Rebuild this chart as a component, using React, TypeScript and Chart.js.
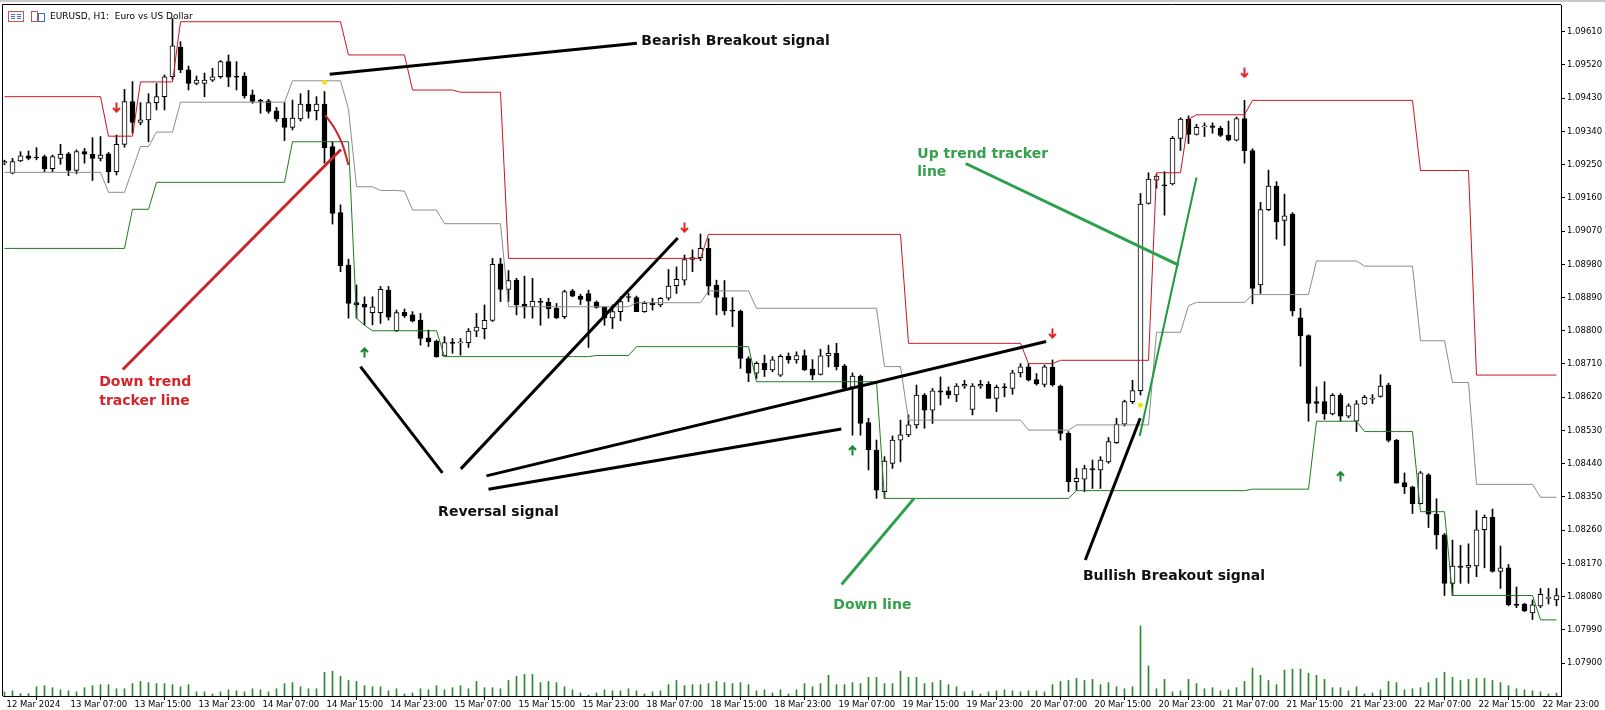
import React, { useEffect, useRef } from 'react';
import { Chart, registerables } from 'chart.js';

Chart.register(...registerables);

const timeLabels = [
  '12 Mar 2024', '13 Mar 07:00', '13 Mar 15:00', '13 Mar 23:00', '14 Mar 07:00', '14 Mar 15:00',
  '14 Mar 23:00', '15 Mar 07:00', '15 Mar 15:00', '15 Mar 23:00', '18 Mar 07:00', '18 Mar 15:00',
  '18 Mar 23:00', '19 Mar 07:00', '19 Mar 15:00', '19 Mar 23:00', '20 Mar 07:00', '20 Mar 15:00',
  '20 Mar 23:00', '21 Mar 07:00', '21 Mar 15:00', '21 Mar 23:00', '22 Mar 07:00', '22 Mar 15:00',
  '22 Mar 23:00',
];

const priceTicks = [
  1.079, 1.0799, 1.0808, 1.0817, 1.0826, 1.0835, 1.0844, 1.0853, 1.0862, 1.0871,
  1.088, 1.0889, 1.0898, 1.0907, 1.0916, 1.0925, 1.0934, 1.0943, 1.0952, 1.0961,
];

const opens = [
  1.09255, 1.09227, 1.09260, 1.09274, 1.09270, 1.09272, 1.09239, 1.09267, 1.09279, 1.09234,
  1.09285, 1.09278, 1.09267, 1.09279, 1.09231, 1.09305, 1.09421, 1.09364, 1.09371, 1.09418,
  1.09434, 1.09488, 1.09568, 1.09507, 1.09470, 1.09470, 1.09479, 1.09488, 1.09529, 1.09490,
  1.09490, 1.09439, 1.09425, 1.09423, 1.09396, 1.09376, 1.09351, 1.09374, 1.09414, 1.09396,
  1.09414, 1.09299, 1.09120, 1.08978, 1.08876, 1.08872, 1.08849, 1.08849, 1.08910, 1.08800,
  1.08850, 1.08843, 1.08829, 1.08781, 1.08772, 1.08732, 1.08769, 1.08767, 1.08768, 1.08799,
  1.08806, 1.08828, 1.08981, 1.08912, 1.08937, 1.08872, 1.08865, 1.08880, 1.08877, 1.08861,
  1.08838, 1.08908, 1.08894, 1.08901, 1.08877, 1.08865, 1.08835, 1.08852, 1.08892, 1.08890,
  1.08852, 1.08874, 1.08870, 1.08888, 1.08922, 1.08937, 1.08993, 1.08998, 1.09023, 1.08924,
  1.08890, 1.08856, 1.08853, 1.08725, 1.08685, 1.08712, 1.08694, 1.08680, 1.08731, 1.08721,
  1.08733, 1.08696, 1.08682, 1.08732, 1.08739, 1.08705, 1.08647, 1.08677, 1.08551, 1.08477,
  1.08364, 1.08441, 1.08504, 1.08518, 1.08545, 1.08626, 1.08585, 1.08637, 1.08637, 1.08626,
  1.08650, 1.08587, 1.08650, 1.08655, 1.08617, 1.08648, 1.08644, 1.08686, 1.08702, 1.08668,
  1.08655, 1.08701, 1.08650, 1.08522, 1.08391, 1.08398, 1.08427, 1.08423, 1.08445, 1.08497,
  1.08547, 1.08608, 1.08638, 1.09145, 1.09208, 1.09195, 1.09198, 1.09321, 1.09373, 1.09332,
  1.09352, 1.09355, 1.09349, 1.09330, 1.09316, 1.09375, 1.09288, 1.08924, 1.09128, 1.09192,
  1.09099, 1.09116, 1.08835, 1.08787, 1.08608, 1.08608, 1.08575, 1.08625, 1.08569, 1.08555,
  1.08602, 1.08615, 1.08622, 1.08653, 1.08503, 1.08389, 1.08377, 1.08332, 1.08410, 1.08303,
  1.08247, 1.08116, 1.08163, 1.08159, 1.08163, 1.08261, 1.08295, 1.08148, 1.08158, 1.08060,
  1.08060, 1.08036, 1.08055, 1.08075, 1.08071,
];

const highs = [
  1.09262, 1.09267, 1.09285, 1.09287, 1.09296, 1.09276, 1.09276, 1.09305, 1.09283, 1.09290,
  1.09294, 1.09323, 1.09326, 1.09283, 1.09330, 1.09454, 1.09475, 1.09418, 1.09442, 1.09470,
  1.09493, 1.09646, 1.09583, 1.09517, 1.09490, 1.09498, 1.09511, 1.09532, 1.09547, 1.09529,
  1.09499, 1.09452, 1.09427, 1.09427, 1.09405, 1.09418, 1.09425, 1.09442, 1.09451, 1.09434,
  1.09448, 1.09312, 1.09141, 1.08994, 1.08924, 1.08892, 1.08892, 1.08920, 1.08920, 1.08856,
  1.08859, 1.08852, 1.08847, 1.08802, 1.08775, 1.08784, 1.08779, 1.08779, 1.08806, 1.08847,
  1.08870, 1.08996, 1.08996, 1.08963, 1.08942, 1.08948, 1.08942, 1.08888, 1.08888, 1.08874,
  1.08910, 1.08912, 1.08899, 1.08910, 1.08881, 1.08865, 1.08870, 1.08892, 1.08901, 1.08894,
  1.08879, 1.08888, 1.08890, 1.08966, 1.08973, 1.09005, 1.09019, 1.09062, 1.09050, 1.08937,
  1.08936, 1.08890, 1.08856, 1.08730, 1.08716, 1.08734, 1.08730, 1.08735, 1.08740, 1.08743,
  1.08748, 1.08722, 1.08750, 1.08761, 1.08766, 1.08709, 1.08686, 1.08680, 1.08563, 1.08504,
  1.08459, 1.08515, 1.08558, 1.08572, 1.08653, 1.08630, 1.08644, 1.08675, 1.08648, 1.08657,
  1.08666, 1.08657, 1.08666, 1.08662, 1.08653, 1.08657, 1.08693, 1.08711, 1.08711, 1.08684,
  1.08707, 1.08721, 1.08653, 1.08527, 1.08427, 1.08436, 1.08450, 1.08459, 1.08511, 1.08563,
  1.08612, 1.08666, 1.09172, 1.09228, 1.09224, 1.09231, 1.09326, 1.09377, 1.09382, 1.09359,
  1.09363, 1.09363, 1.09354, 1.09368, 1.09379, 1.09424, 1.09293, 1.09148, 1.09235, 1.09204,
  1.09170, 1.09120, 1.08861, 1.08789, 1.08648, 1.08662, 1.08630, 1.08630, 1.08602, 1.08611,
  1.08625, 1.08627, 1.08681, 1.08658, 1.08506, 1.08415, 1.08379, 1.08419, 1.08413, 1.08345,
  1.08251, 1.08233, 1.08219, 1.08223, 1.08313, 1.08301, 1.08317, 1.08217, 1.08167, 1.08106,
  1.08062, 1.08071, 1.08102, 1.08102, 1.08102,
];

const lows = [
  1.09250, 1.09225, 1.09258, 1.09263, 1.09263, 1.09231, 1.09231, 1.09251, 1.09220, 1.09225,
  1.09254, 1.09207, 1.09260, 1.09201, 1.09222, 1.09297, 1.09335, 1.09358, 1.09312, 1.09398,
  1.09398, 1.09481, 1.09499, 1.09452, 1.09466, 1.09434, 1.09475, 1.09484, 1.09461, 1.09452,
  1.09430, 1.09416, 1.09389, 1.09389, 1.09367, 1.09315, 1.09344, 1.09368, 1.09376, 1.09371,
  1.09254, 1.09089, 1.08960, 1.08834, 1.08834, 1.08816, 1.08816, 1.08820, 1.08829, 1.08798,
  1.08836, 1.08824, 1.08761, 1.08757, 1.08728, 1.08730, 1.08739, 1.08734, 1.08755, 1.08784,
  1.08778, 1.08825, 1.08879, 1.08879, 1.08843, 1.08834, 1.08834, 1.08815, 1.08834, 1.08833,
  1.08833, 1.08892, 1.08871, 1.08755, 1.08861, 1.08815, 1.08806, 1.08827, 1.08879, 1.08852,
  1.08850, 1.08856, 1.08865, 1.08883, 1.08901, 1.08924, 1.08960, 1.08990, 1.08897, 1.08843,
  1.08843, 1.08811, 1.08698, 1.08662, 1.08671, 1.08676, 1.08689, 1.08676, 1.08712, 1.08712,
  1.08692, 1.08667, 1.08680, 1.08702, 1.08694, 1.08639, 1.08517, 1.08517, 1.08423, 1.08346,
  1.08346, 1.08427, 1.08445, 1.08513, 1.08536, 1.08536, 1.08549, 1.08599, 1.08617, 1.08608,
  1.08644, 1.08572, 1.08644, 1.08617, 1.08581, 1.08621, 1.08628, 1.08675, 1.08664, 1.08653,
  1.08648, 1.08650, 1.08504, 1.08364, 1.08368, 1.08364, 1.08373, 1.08373, 1.08441, 1.08495,
  1.08542, 1.08603, 1.08626, 1.09143, 1.09186, 1.09113, 1.09195, 1.09288, 1.09307, 1.09330,
  1.09326, 1.09335, 1.09326, 1.09314, 1.09314, 1.09254, 1.08873, 1.08901, 1.09125, 1.09048,
  1.09031, 1.08840, 1.08704, 1.08555, 1.08578, 1.08560, 1.08572, 1.08555, 1.08564, 1.08527,
  1.08600, 1.08603, 1.08620, 1.08499, 1.08387, 1.08359, 1.08305, 1.08331, 1.08267, 1.08209,
  1.08083, 1.08083, 1.08116, 1.08116, 1.08134, 1.08158, 1.08146, 1.08102, 1.08055, 1.08050,
  1.08039, 1.08018, 1.08050, 1.08060, 1.08055,
];

const closes = [
  1.09258, 1.09258, 1.09274, 1.09267, 1.09268, 1.09239, 1.09272, 1.09278, 1.09234, 1.09285,
  1.09278, 1.09267, 1.09276, 1.09231, 1.09305, 1.09421, 1.09364, 1.09371, 1.09418, 1.09434,
  1.09488, 1.09572, 1.09507, 1.09470, 1.09479, 1.09479, 1.09488, 1.09529, 1.09487, 1.09487,
  1.09436, 1.09421, 1.09421, 1.09394, 1.09374, 1.09351, 1.09376, 1.09414, 1.09394, 1.09414,
  1.09296, 1.09118, 1.08976, 1.08874, 1.08870, 1.08864, 1.08865, 1.08912, 1.08837, 1.08849,
  1.08840, 1.08826, 1.08779, 1.08770, 1.08730, 1.08768, 1.08766, 1.08770, 1.08799, 1.08810,
  1.08828, 1.08980, 1.08912, 1.08936, 1.08870, 1.08865, 1.08880, 1.08877, 1.08859, 1.08835,
  1.08906, 1.08894, 1.08885, 1.08880, 1.08863, 1.08834, 1.08852, 1.08879, 1.08890, 1.08852,
  1.08874, 1.08871, 1.08888, 1.08921, 1.08939, 1.08993, 1.08998, 1.09023, 1.08921, 1.08890,
  1.08854, 1.08853, 1.08725, 1.08685, 1.08712, 1.08694, 1.08721, 1.08731, 1.08721, 1.08733,
  1.08694, 1.08680, 1.08732, 1.08739, 1.08703, 1.08644, 1.08677, 1.08549, 1.08477, 1.08368,
  1.08447, 1.08504, 1.08518, 1.08545, 1.08626, 1.08585, 1.08637, 1.08634, 1.08626, 1.08650,
  1.08655, 1.08650, 1.08655, 1.08617, 1.08647, 1.08645, 1.08686, 1.08702, 1.08666, 1.08656,
  1.08702, 1.08653, 1.08522, 1.08391, 1.08400, 1.08427, 1.08423, 1.08450, 1.08500, 1.08547,
  1.08608, 1.08638, 1.09143, 1.09211, 1.09219, 1.09192, 1.09321, 1.09373, 1.09332, 1.09351,
  1.09355, 1.09351, 1.09329, 1.09316, 1.09375, 1.09288, 1.08915, 1.09128, 1.09192, 1.09095,
  1.09111, 1.08854, 1.08786, 1.08603, 1.08603, 1.08575, 1.08625, 1.08569, 1.08597, 1.08602,
  1.08620, 1.08618, 1.08650, 1.08503, 1.08387, 1.08377, 1.08332, 1.08415, 1.08303, 1.08247,
  1.08116, 1.08163, 1.08159, 1.08165, 1.08261, 1.08295, 1.08148, 1.08158, 1.08058, 1.08056,
  1.08041, 1.08058, 1.08086, 1.08078, 1.08083,
];

const volumes = [
  1000, 1300, 600, 600, 2330, 2580, 2080, 1550, 1300, 1030,
  2080, 2580, 2850, 2850, 1800, 1800, 3100, 3630, 3350, 3100,
  3100, 2850, 2330, 2850, 1030, 1030, 500, 1030, 1550, 1300,
  1030, 1800, 1550, 1030, 1800, 3100, 3350, 2330, 1800, 1800,
  5950, 6200, 4930, 3880, 3630, 2580, 2330, 2330, 1300, 1800,
  500, 780, 1800, 1550, 2580, 1550, 2080, 2580, 1800, 3630,
  2080, 2080, 1800, 3880, 4930, 5430, 5430, 3350, 3630, 3350,
  2330, 1550, 780, 250, 780, 1550, 1300, 1300, 1800, 1300,
  500, 1030, 1300, 2850, 3880, 2580, 2850, 2850, 3100, 3630,
  3350, 3100, 3350, 2850, 1300, 1550, 780, 1550, 500, 1550,
  3100, 2330, 3100, 5180, 2850, 2850, 3350, 3100, 4650, 4650,
  3100, 3100, 6200, 4650, 4650, 3100, 3350, 3880, 2850, 2330,
  1030, 1300, 500, 1030, 1300, 1550, 1300, 1030, 1300, 1300,
  1030, 2850, 3630, 3880, 4400, 3880, 4150, 2850, 3350, 2330,
  1800, 2330, 17500, 7500, 1800, 4150, 1030, 1300, 4150, 3100,
  1800, 2080, 1300, 1550, 2080, 3630, 6980, 5180, 3880, 2850,
  6480, 6730, 6730, 5700, 5180, 4150, 2080, 2080, 1300, 2330,
  500, 780, 1550, 3630, 3350, 1550, 1800, 2080, 3350, 4400,
  5950, 4650, 3880, 4150, 4400, 4400, 3880, 3350, 2580, 1800,
  1550, 1300, 1030, 500, 750,
];

const upperChannel = [
  1.09434, 1.09434, 1.09434, 1.09434, 1.09434, 1.09434, 1.09434, 1.09434, 1.09434, 1.09434,
  1.09434, 1.09434, 1.09434, 1.09327, 1.09327, 1.09327, 1.09327, 1.09474, 1.09474, 1.09474,
  1.09474, 1.09474, 1.09637, 1.09637, 1.09637, 1.09637, 1.09637, 1.09637, 1.09637, 1.09637,
  1.09637, 1.09637, 1.09637, 1.09637, 1.09637, 1.09637, 1.09637, 1.09637, 1.09637, 1.09637,
  1.09637, 1.09637, 1.09637, 1.09547, 1.09547, 1.09547, 1.09547, 1.09547, 1.09547, 1.09547,
  1.09547, 1.09452, 1.09452, 1.09452, 1.09452, 1.09452, 1.09452, 1.09446, 1.09446, 1.09446,
  1.09446, 1.09446, 1.09446, 1.08996, 1.08996, 1.08996, 1.08996, 1.08996, 1.08996, 1.08996,
  1.08996, 1.08996, 1.08996, 1.08996, 1.08996, 1.08996, 1.08996, 1.08996, 1.08996, 1.08996,
  1.08996, 1.08996, 1.08996, 1.08996, 1.08996, 1.08996, 1.08996, 1.08996, 1.09061, 1.09061,
  1.09061, 1.09061, 1.09061, 1.09061, 1.09061, 1.09061, 1.09061, 1.09061, 1.09061, 1.09061,
  1.09061, 1.09061, 1.09061, 1.09061, 1.09061, 1.09061, 1.09061, 1.09061, 1.09061, 1.09061,
  1.09061, 1.09061, 1.09061, 1.08766, 1.08766, 1.08766, 1.08766, 1.08766, 1.08766, 1.08766,
  1.08766, 1.08766, 1.08766, 1.08766, 1.08766, 1.08766, 1.08766, 1.08766, 1.08711, 1.08711,
  1.08711, 1.08711, 1.08720, 1.08720, 1.08720, 1.08720, 1.08720, 1.08720, 1.08720, 1.08720,
  1.08720, 1.08720, 1.08720, 1.08720, 1.09228, 1.09228, 1.09228, 1.09228, 1.09373, 1.09385,
  1.09385, 1.09385, 1.09385, 1.09385, 1.09385, 1.09385, 1.09424, 1.09424, 1.09424, 1.09424,
  1.09424, 1.09424, 1.09424, 1.09424, 1.09424, 1.09424, 1.09424, 1.09424, 1.09424, 1.09424,
  1.09424, 1.09424, 1.09424, 1.09424, 1.09424, 1.09424, 1.09424, 1.09234, 1.09234, 1.09234,
  1.09234, 1.09234, 1.09234, 1.09234, 1.08680, 1.08680, 1.08680, 1.08680, 1.08680, 1.08680,
  1.08680, 1.08680, 1.08680, 1.08680, 1.08680,
];

const middleChannel = [
  1.09229, 1.09229, 1.09229, 1.09229, 1.09229, 1.09229, 1.09229, 1.09229, 1.09229, 1.09229,
  1.09229, 1.09229, 1.09229, 1.09175, 1.09175, 1.09175, 1.09237, 1.09299, 1.09299, 1.09338,
  1.09338, 1.09338, 1.09419, 1.09419, 1.09419, 1.09419, 1.09419, 1.09419, 1.09419, 1.09419,
  1.09419, 1.09419, 1.09419, 1.09419, 1.09419, 1.09419, 1.09477, 1.09477, 1.09477, 1.09477,
  1.09477, 1.09477, 1.09477, 1.09400, 1.09190, 1.09190, 1.09190, 1.09180, 1.09180, 1.09180,
  1.09178, 1.09127, 1.09127, 1.09127, 1.09127, 1.09090, 1.09090, 1.09090, 1.09090, 1.09090,
  1.09090, 1.09090, 1.09090, 1.08865, 1.08865, 1.08865, 1.08865, 1.08865, 1.08865, 1.08865,
  1.08865, 1.08865, 1.08865, 1.08865, 1.08865, 1.08865, 1.08865, 1.08865, 1.08865, 1.08876,
  1.08876, 1.08876, 1.08876, 1.08876, 1.08876, 1.08876, 1.08876, 1.08876, 1.08908, 1.08908,
  1.08908, 1.08908, 1.08908, 1.08908, 1.08861, 1.08861, 1.08861, 1.08861, 1.08861, 1.08861,
  1.08861, 1.08861, 1.08861, 1.08861, 1.08861, 1.08861, 1.08861, 1.08861, 1.08861, 1.08861,
  1.08703, 1.08703, 1.08703, 1.08558, 1.08558, 1.08558, 1.08558, 1.08558, 1.08558, 1.08558,
  1.08558, 1.08558, 1.08558, 1.08558, 1.08558, 1.08558, 1.08558, 1.08558, 1.08531, 1.08531,
  1.08531, 1.08531, 1.08531, 1.08531, 1.08545, 1.08545, 1.08545, 1.08545, 1.08545, 1.08545,
  1.08545, 1.08545, 1.08545, 1.08545, 1.08796, 1.08796, 1.08796, 1.08796, 1.08868, 1.08877,
  1.08877, 1.08877, 1.08877, 1.08877, 1.08877, 1.08877, 1.08898, 1.08898, 1.08898, 1.08898,
  1.08898, 1.08898, 1.08898, 1.08898, 1.08989, 1.08989, 1.08989, 1.08989, 1.08989, 1.08989,
  1.08975, 1.08975, 1.08975, 1.08975, 1.08975, 1.08975, 1.08975, 1.08773, 1.08773, 1.08773,
  1.08773, 1.08660, 1.08660, 1.08660, 1.08384, 1.08384, 1.08384, 1.08384, 1.08384, 1.08384,
  1.08384, 1.08384, 1.08349, 1.08349, 1.08349,
];

const lowerChannel = [
  1.09023, 1.09023, 1.09023, 1.09023, 1.09023, 1.09023, 1.09023, 1.09023, 1.09023, 1.09023,
  1.09023, 1.09023, 1.09023, 1.09023, 1.09023, 1.09023, 1.09129, 1.09129, 1.09129, 1.09202,
  1.09202, 1.09202, 1.09202, 1.09202, 1.09202, 1.09202, 1.09202, 1.09202, 1.09202, 1.09202,
  1.09202, 1.09202, 1.09202, 1.09202, 1.09202, 1.09202, 1.09312, 1.09312, 1.09312, 1.09312,
  1.09312, 1.09312, 1.09312, 1.09312, 1.08834, 1.08815, 1.08800, 1.08800, 1.08800, 1.08800,
  1.08800, 1.08800, 1.08800, 1.08800, 1.08800, 1.08730, 1.08730, 1.08730, 1.08730, 1.08730,
  1.08730, 1.08730, 1.08730, 1.08730, 1.08730, 1.08730, 1.08730, 1.08730, 1.08730, 1.08730,
  1.08730, 1.08730, 1.08730, 1.08730, 1.08733, 1.08733, 1.08733, 1.08733, 1.08733, 1.08757,
  1.08757, 1.08757, 1.08757, 1.08757, 1.08757, 1.08757, 1.08757, 1.08757, 1.08757, 1.08757,
  1.08757, 1.08757, 1.08757, 1.08757, 1.08662, 1.08662, 1.08662, 1.08662, 1.08662, 1.08662,
  1.08662, 1.08662, 1.08662, 1.08662, 1.08662, 1.08662, 1.08662, 1.08662, 1.08662, 1.08662,
  1.08346, 1.08346, 1.08346, 1.08346, 1.08346, 1.08346, 1.08346, 1.08346, 1.08346, 1.08346,
  1.08346, 1.08346, 1.08346, 1.08346, 1.08346, 1.08346, 1.08346, 1.08346, 1.08346, 1.08346,
  1.08346, 1.08346, 1.08346, 1.08346, 1.08367, 1.08367, 1.08367, 1.08367, 1.08367, 1.08367,
  1.08367, 1.08367, 1.08367, 1.08367, 1.08367, 1.08367, 1.08367, 1.08367, 1.08367, 1.08367,
  1.08367, 1.08367, 1.08367, 1.08367, 1.08367, 1.08367, 1.08371, 1.08371, 1.08371, 1.08371,
  1.08371, 1.08371, 1.08371, 1.08371, 1.08555, 1.08555, 1.08555, 1.08555, 1.08555, 1.08555,
  1.08527, 1.08527, 1.08527, 1.08527, 1.08527, 1.08527, 1.08527, 1.08310, 1.08310, 1.08310,
  1.08310, 1.08083, 1.08083, 1.08083, 1.08083, 1.08083, 1.08083, 1.08083, 1.08083, 1.08083,
  1.08083, 1.08083, 1.08017, 1.08017, 1.08017,
];

const sellArrows = [
  { x: 14, y: 1.09405 }, { x: 85, y: 1.0908 }, { x: 131, y: 1.08793 }, { x: 155, y: 1.09499 },
];
const buyArrows = [
  { x: 45, y: 1.08741 }, { x: 106, y: 1.08476 }, { x: 167, y: 1.08406 },
];
const breakoutDots = [
  { x: 40, y: 1.09473 }, { x: 142, y: 1.08598 },
];

const bearishPointer = [{ x: 40.65, y: 1.09495 }, { x: 79.05, y: 1.09579 }];
const downTrackerPointer = [{ x: 14.79, y: 1.08695 }, { x: 42.05, y: 1.09291 }];
const downTrackerCurve = [
  { x: 40.09, y: 1.09384 }, { x: 41.12, y: 1.09353 }, { x: 42.18, y: 1.09308 }, { x: 43.0, y: 1.09249 },
];
const reversalPointerA = [{ x: 44.5, y: 1.08703 }, { x: 54.74, y: 1.08415 }];
const reversalPointerB = [{ x: 57.04, y: 1.08426 }, { x: 84.15, y: 1.09051 }];
const reversalPointerC = [{ x: 60.24, y: 1.08407 }, { x: 130.2, y: 1.08771 }];
const reversalPointerD = [{ x: 60.5, y: 1.08371 }, { x: 104.6, y: 1.08534 }];
const upTrackerPointer = [{ x: 120.15, y: 1.09253 }, { x: 146.78, y: 1.08978 }];
const upTrackerLine = [{ x: 141.9, y: 1.08515 }, { x: 149.0, y: 1.09215 }];
const downLinePointer = [{ x: 104.64, y: 1.08113 }, { x: 113.7, y: 1.08346 }];
const bullishPointer = [{ x: 135.1, y: 1.08179 }, { x: 141.96, y: 1.08563 }];

const noteTexts = [
  'Bearish Breakout signal', 'Down trend', 'tracker line', 'Reversal signal',
  'Up trend tracker', 'line', 'Down line', 'Bullish Breakout signal',
];
const noteX = [79.6, 11.84, 11.84, 54.2, 114.1, 114.1, 103.6, 134.8];
const noteY = [1.09584, 1.08659, 1.0861, 1.08309, 1.09277, 1.09228, 1.08057, 1.08135];
const noteColors = ['#111111', '#d3262b', '#d3262b', '#111111', '#35a04b', '#35a04b', '#35a04b', '#111111'];

const headerTitle = 'EURUSD, H1:  Euro vs US Dollar';

function makeArrow(color: string, down: boolean) {
  const c = document.createElement('canvas');
  c.width = 9;
  c.height = 11;
  const g = c.getContext('2d') as CanvasRenderingContext2D;
  g.strokeStyle = color;
  g.lineWidth = 2;
  g.beginPath();
  if (down) {
    g.moveTo(4.5, 0.5); g.lineTo(4.5, 9.5);
    g.moveTo(1, 6); g.lineTo(4.5, 9.5); g.lineTo(8, 6);
  } else {
    g.moveTo(4.5, 10.5); g.lineTo(4.5, 1.5);
    g.moveTo(1, 5); g.lineTo(4.5, 1.5); g.lineTo(8, 5);
  }
  g.stroke();
  return c;
}

const overlayPlugin = {
  id: 'mtOverlay',
  beforeDraw(chart: any) {
    const { ctx, width, height } = chart;
    ctx.save();
    ctx.fillStyle = '#ffffff';
    ctx.fillRect(0, 0, width, height);
    ctx.fillStyle = '#c9c9c9';
    ctx.fillRect(0, 0, width, 2);
    ctx.restore();
  },
  afterDatasetsDraw(chart: any) {
    const { ctx, chartArea: a, scales } = chart;
    ctx.save();
    ctx.strokeStyle = '#000';
    ctx.lineWidth = 1;
    ctx.beginPath();
    ctx.moveTo(a.left - 0.5, a.bottom);
    ctx.lineTo(a.left - 0.5, a.top - 0.5);
    ctx.lineTo(a.right, a.top - 0.5);
    ctx.stroke();

    ctx.font = 'bold 14px "DejaVu Sans"';
    ctx.textBaseline = 'middle';
    ctx.textAlign = 'left';
    noteTexts.forEach((t, i) => {
      ctx.fillStyle = noteColors[i];
      ctx.fillText(t, scales.x.getPixelForValue(noteX[i]), scales.y.getPixelForValue(noteY[i]));
    });

    // header icons + title
    ctx.lineWidth = 1;
    ctx.strokeStyle = '#d05050';
    ctx.strokeRect(8.5, 11.5, 15, 10);
    ctx.strokeStyle = '#3a6fc0';
    ctx.beginPath();
    ctx.moveTo(11, 14.5); ctx.lineTo(15, 14.5);
    ctx.moveTo(11, 16.5); ctx.lineTo(15, 16.5);
    ctx.moveTo(11, 18.5); ctx.lineTo(15, 18.5);
    ctx.moveTo(17, 14.5); ctx.lineTo(21, 14.5);
    ctx.moveTo(17, 16.5); ctx.lineTo(21, 16.5);
    ctx.moveTo(17, 18.5); ctx.lineTo(21, 18.5);
    ctx.stroke();
    ctx.strokeStyle = '#d05050';
    ctx.strokeRect(31.5, 11.5, 6, 10);
    ctx.strokeStyle = '#3a6fc0';
    ctx.strokeRect(38.5, 13.5, 6, 8);
    ctx.fillStyle = '#000';
    ctx.font = '9px "DejaVu Sans"';
    ctx.fillText(headerTitle, 50, 17);
    ctx.restore();
  },
};

export default function App() {
  const ref = useRef<HTMLCanvasElement>(null);

  useEffect(() => {
    const canvas = ref.current;
    if (!canvas) return;
    const sellIcon = makeArrow('#e32322', true);
    const buyIcon = makeArrow('#13852f', false);
    const series = (vals: number[]) => vals.map((v, i) => ({ x: i, y: v }));
    const pointer = (data: any[], color: string, width: number, tension = 0) => ({
      type: 'line', data, borderColor: color, borderWidth: width, pointRadius: 0,
      tension, order: 1, fill: false, borderCapStyle: 'butt',
    });

    const chart = new Chart(canvas, {
      type: 'bar',
      data: {
        datasets: [
          {
            type: 'bar', data: volumes.map((v, i) => ({ x: i, y: v })), yAxisID: 'yVol',
            backgroundColor: '#2b8a2b', barThickness: 1, grouped: false, order: 6,
          },
          {
            type: 'bar', data: highs.map((h, i) => ({ x: i, y: [lows[i], h] })),
            backgroundColor: '#000000', barThickness: 1, grouped: false, order: 5, borderWidth: 0,
          },
          {
            type: 'bar', data: opens.map((o, i) => ({ x: i, y: [o, closes[i]] })),
            backgroundColor: opens.map((o, i) => (closes[i] >= o ? '#ffffff' : '#000000')),
            borderColor: '#000000', borderWidth: 1, borderSkipped: false, barThickness: 5,
            minBarLength: 1, grouped: false, order: 4,
          },
          { type: 'line', data: series(upperChannel), borderColor: '#c8161d', borderWidth: 1, pointRadius: 0, tension: 0, order: 3 },
          { type: 'line', data: series(middleChannel), borderColor: '#8c8c8c', borderWidth: 1, pointRadius: 0, tension: 0, order: 3 },
          { type: 'line', data: series(lowerChannel), borderColor: '#1f7a1f', borderWidth: 1, pointRadius: 0, tension: 0, order: 3 },
          { type: 'line', data: sellArrows, showLine: false, pointStyle: sellIcon, order: 2 },
          { type: 'line', data: buyArrows, showLine: false, pointStyle: buyIcon, order: 2 },
          {
            type: 'line', data: breakoutDots, showLine: false, pointStyle: 'circle', pointRadius: 2.5,
            pointBackgroundColor: '#f2e40a', pointBorderWidth: 0, order: 2,
          },
          pointer(bearishPointer, '#000000', 3),
          pointer(downTrackerPointer, '#c8262c', 3),
          pointer(downTrackerCurve, '#c8262c', 2, 0.4),
          pointer(reversalPointerA, '#000000', 3),
          pointer(reversalPointerB, '#000000', 3),
          pointer(reversalPointerC, '#000000', 3),
          pointer(reversalPointerD, '#000000', 3),
          pointer(upTrackerPointer, '#2aa04c', 3),
          pointer(upTrackerLine, '#1f9a3a', 2),
          pointer(downLinePointer, '#2aa04c', 3),
          pointer(bullishPointer, '#000000', 3),
        ] as any,
      },
      options: {
        responsive: false,
        animation: false,
        devicePixelRatio: 1,
        events: [],
        layout: { padding: { left: 3, top: 5, right: 0, bottom: 0 }, autoPadding: false },
        plugins: { legend: { display: false }, tooltip: { enabled: false }, title: { display: false } },
        scales: {
          x: {
            type: 'linear', position: 'bottom', min: -0.1875, max: 194.5625, offset: false,
            afterBuildTicks: (s: any) => { s.ticks = timeLabels.map((_, i) => ({ value: i * 8 })); },
            afterFit: (s: any) => { s.height = 14; s.paddingLeft = 0; s.paddingRight = 0; },
            ticks: {
              autoSkip: false, maxRotation: 0, minRotation: 0, align: 'start', padding: 0, labelOffset: 2,
              color: '#000', font: { family: 'DejaVu Sans', size: 8.5 },
              callback: (v: any) => timeLabels[Math.round(Number(v) / 8)] ?? '',
            },
            grid: { drawOnChartArea: false, drawTicks: true, tickLength: 4, color: '#000' },
            border: { display: true, color: '#000', width: 1 },
          },
          y: {
            type: 'linear', position: 'right', min: 1.078108, max: 1.096823,
            afterBuildTicks: (s: any) => { s.ticks = priceTicks.map((v) => ({ value: v })); },
            afterFit: (s: any) => { s.width = 44; s.paddingTop = 0; s.paddingBottom = 0; },
            ticks: {
              padding: 2, color: '#000', font: { family: 'DejaVu Sans', size: 8.5 },
              callback: (v: any) => Number(v).toFixed(5),
            },
            grid: { drawOnChartArea: false, drawTicks: true, tickLength: 4, color: '#000' },
            border: { display: true, color: '#000', width: 1 },
          },
          yVol: { type: 'linear', display: false, min: 0, max: 172750 },
        },
      } as any,
      plugins: [overlayPlugin],
    });
    return () => chart.destroy();
  }, []);

  return (
    <div style={{ position: 'fixed', left: 0, top: 0, width: 1605, height: 710, background: '#fff' }}>
      <canvas ref={ref} width={1605} height={710} style={{ display: 'block', width: 1605, height: 710 }} />
    </div>
  );
}
